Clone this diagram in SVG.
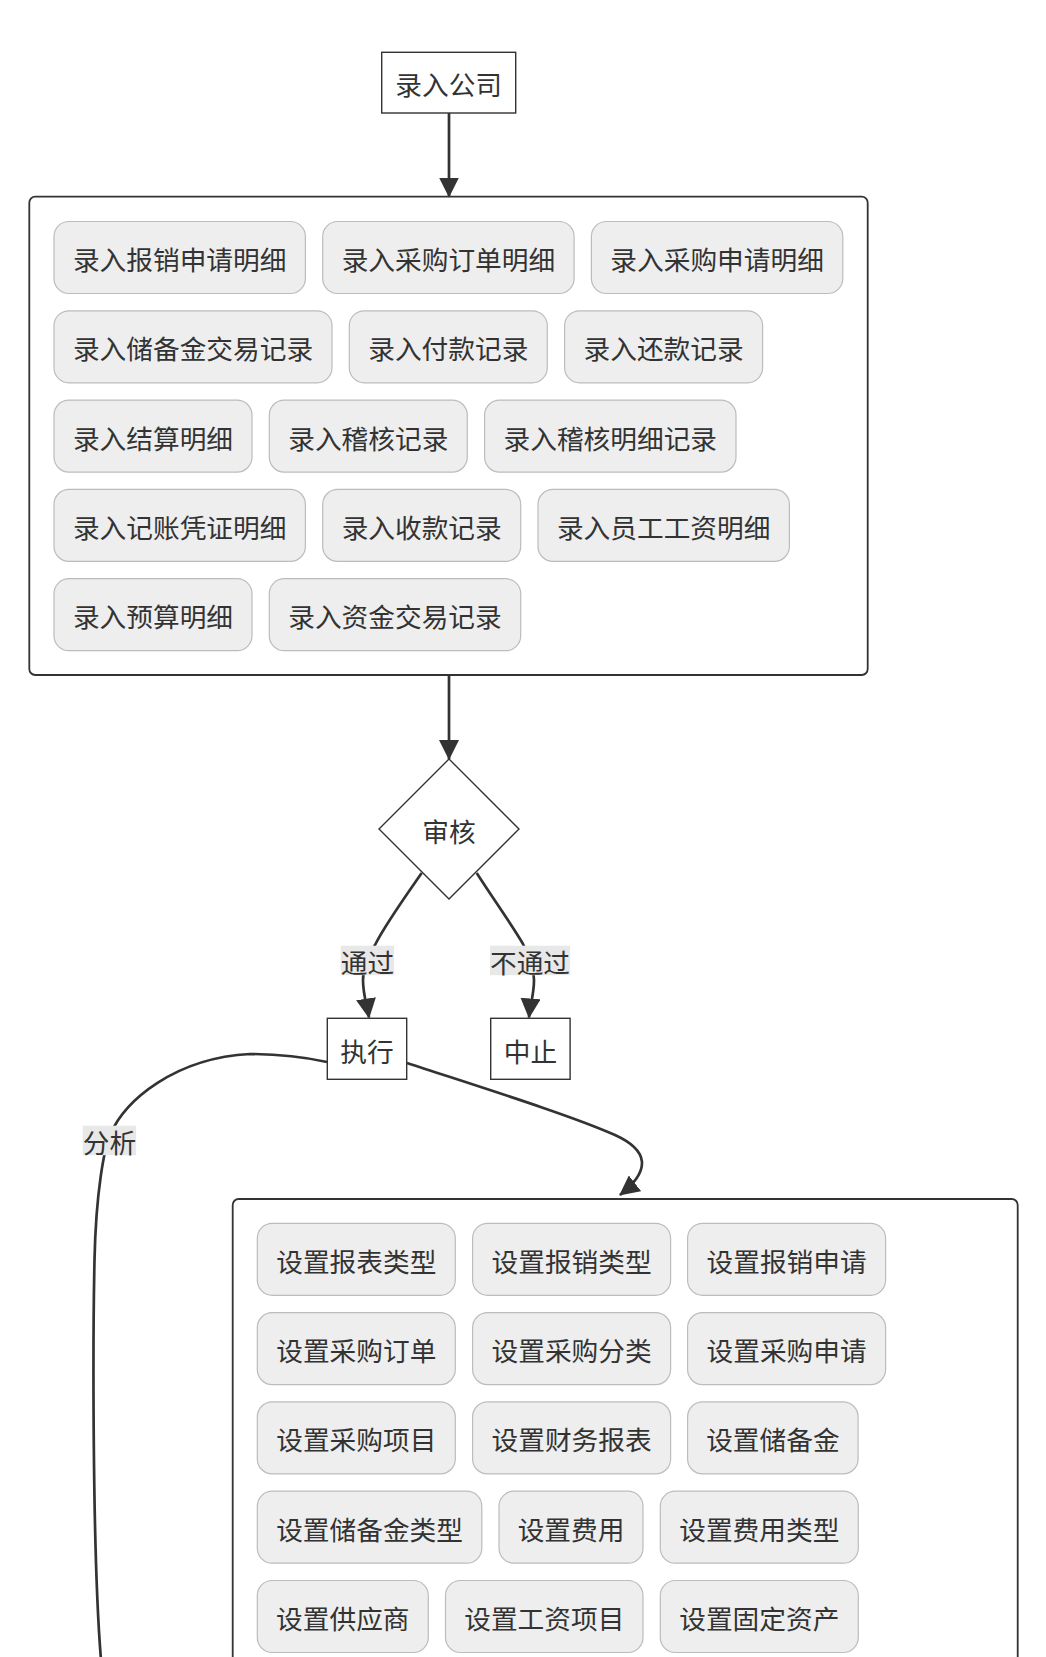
<svg xmlns="http://www.w3.org/2000/svg" width="1046" height="1657" viewBox="0 0 1046 1657">
<style>
  text { font-family: "Noto Sans CJK SC", "Noto Sans", "Liberation Sans", sans-serif; font-size: 26.7px; fill: #333333; text-anchor: middle; dominant-baseline: central; }
  .cluster { fill: #ffffff; stroke: #333333; stroke-width: 1.8; }
  .box { fill: #ffffff; stroke: #333333; stroke-width: 1.4; }
  .item { fill: #eeeeee; stroke: #bcbcbc; stroke-width: 1.2; }
  .edge { fill: none; stroke: #333333; stroke-width: 2.7; }
  .lbl { fill: #e8e8e8; }
</style>
<defs>
  <marker id="arrow" viewBox="0 0 10 10" refX="9.5" refY="5" markerUnits="userSpaceOnUse" markerWidth="20" markerHeight="20" orient="auto">
    <path d="M0,0 L10,5 L0,10 z" fill="#333333"/>
  </marker>
</defs>
<rect width="1046" height="1657" fill="#ffffff"/>

<g id="cluster-input">
  <rect class="cluster" x="29.3" y="196.7" width="838.4" height="478.3" rx="6"/>
</g>
<g id="cluster-setup">
  <rect class="cluster" x="232.7" y="1199" width="785" height="560" rx="6"/>
</g>

<g id="connectors">
  <path class="edge" d="M449,113 L449,196.5" marker-end="url(#arrow)"/>
  <path class="edge" d="M449,675 L449,759" marker-end="url(#arrow)"/>
  <path class="edge" d="M421.7,873 C405,897 385,925 375,945 C368,958 363,968 363,980 C363,995 367,1005 369,1017.5" marker-end="url(#arrow)"/>
  <path class="edge" d="M476.7,873 C492,897 512,925 523,944 C530,958 534,968 534,980 C534,995 530,1005 529,1017.5" marker-end="url(#arrow)"/>
  <path class="edge" d="M407,1063 C480,1087 570,1115 615,1135 C648,1150 652,1170 620,1195" marker-end="url(#arrow)"/>
  <path class="edge" d="M327,1062 C295,1055 270,1054 250,1054 C175,1058 125,1100 110,1135 C104.5,1148 96,1190 94.5,1260 C93,1330 92,1550 101,1660"/>
  <g id="label-pass">
    <rect class="lbl" x="340.7" y="945.7" width="53.4" height="29.5"/>
    <text x="367.4" y="961">通过</text>
  </g>
  <g id="label-fail">
    <rect class="lbl" x="490" y="945.7" width="80.1" height="29.5"/>
    <text x="530" y="961">不通过</text>
  </g>
  <g id="label-analyze">
    <rect class="lbl" x="82.7" y="1125.7" width="53.4" height="29.5"/>
    <text x="109.4" y="1141">分析</text>
  </g>
</g>

<g id="node-company">
  <rect class="box" x="381.7" y="52.3" width="134" height="60.7"/>
  <text x="448.7" y="83.5">录入公司</text>
</g>
<g id="node-audit">
  <polygon class="box" points="449,759 519,829 449,899 379,829"/>
  <text x="449" y="830">审核</text>
</g>
<g id="node-exec">
  <rect class="box" x="327.3" y="1018.3" width="79.4" height="61"/>
  <text x="367" y="1050">执行</text>
</g>
<g id="node-stop">
  <rect class="box" x="490.7" y="1018.3" width="79.4" height="61"/>
  <text x="530.4" y="1050">中止</text>
</g>

<!-- cluster 1 items -->
<g id="n-a1"><rect class="item" x="54" y="221.5" width="251.4" height="72" rx="15"/><text x="179.7" y="258.5">录入报销申请明细</text></g>
<g id="n-a2"><rect class="item" x="322.7" y="221.5" width="251.4" height="72" rx="15"/><text x="448.4" y="258.5">录入采购订单明细</text></g>
<g id="n-a3"><rect class="item" x="591.4" y="221.5" width="251.4" height="72" rx="15"/><text x="717.1" y="258.5">录入采购申请明细</text></g>

<g id="n-b1"><rect class="item" x="54" y="310.8" width="278" height="72" rx="15"/><text x="193" y="347.8">录入储备金交易记录</text></g>
<g id="n-b2"><rect class="item" x="349.3" y="310.8" width="198" height="72" rx="15"/><text x="448.3" y="347.8">录入付款记录</text></g>
<g id="n-b3"><rect class="item" x="564.6" y="310.8" width="198" height="72" rx="15"/><text x="663.6" y="347.8">录入还款记录</text></g>

<g id="n-c1"><rect class="item" x="54" y="400.1" width="198" height="72" rx="15"/><text x="153" y="437.1">录入结算明细</text></g>
<g id="n-c2"><rect class="item" x="269.3" y="400.1" width="198" height="72" rx="15"/><text x="368.3" y="437.1">录入稽核记录</text></g>
<g id="n-c3"><rect class="item" x="484.6" y="400.1" width="251.4" height="72" rx="15"/><text x="610.3" y="437.1">录入稽核明细记录</text></g>

<g id="n-d1"><rect class="item" x="54" y="489.4" width="251.4" height="72" rx="15"/><text x="179.7" y="526.4">录入记账凭证明细</text></g>
<g id="n-d2"><rect class="item" x="322.7" y="489.4" width="198" height="72" rx="15"/><text x="421.7" y="526.4">录入收款记录</text></g>
<g id="n-d3"><rect class="item" x="538" y="489.4" width="251.4" height="72" rx="15"/><text x="663.7" y="526.4">录入员工工资明细</text></g>

<g id="n-e1"><rect class="item" x="54" y="578.7" width="198" height="72" rx="15"/><text x="153" y="615.7">录入预算明细</text></g>
<g id="n-e2"><rect class="item" x="269.3" y="578.7" width="251.4" height="72" rx="15"/><text x="395" y="615.7">录入资金交易记录</text></g>

<!-- cluster 2 items -->
<g id="n-f1"><rect class="item" x="257.3" y="1223.3" width="198" height="72" rx="15"/><text x="356.3" y="1260.3">设置报表类型</text></g>
<g id="n-f2"><rect class="item" x="472.6" y="1223.3" width="198" height="72" rx="15"/><text x="571.6" y="1260.3">设置报销类型</text></g>
<g id="n-f3"><rect class="item" x="687.6" y="1223.3" width="198" height="72" rx="15"/><text x="786.6" y="1260.3">设置报销申请</text></g>

<g id="n-g1"><rect class="item" x="257.3" y="1312.6" width="198" height="72" rx="15"/><text x="356.3" y="1349.6">设置采购订单</text></g>
<g id="n-g2"><rect class="item" x="472.6" y="1312.6" width="198" height="72" rx="15"/><text x="571.6" y="1349.6">设置采购分类</text></g>
<g id="n-g3"><rect class="item" x="687.6" y="1312.6" width="198" height="72" rx="15"/><text x="786.6" y="1349.6">设置采购申请</text></g>

<g id="n-h1"><rect class="item" x="257.3" y="1401.9" width="198" height="72" rx="15"/><text x="356.3" y="1438.9">设置采购项目</text></g>
<g id="n-h2"><rect class="item" x="472.6" y="1401.9" width="198" height="72" rx="15"/><text x="571.6" y="1438.9">设置财务报表</text></g>
<g id="n-h3"><rect class="item" x="687.6" y="1401.9" width="170.5" height="72" rx="15"/><text x="772.9" y="1438.9">设置储备金</text></g>

<g id="n-i1"><rect class="item" x="257.3" y="1491.2" width="224.5" height="72" rx="15"/><text x="369.6" y="1528.2">设置储备金类型</text></g>
<g id="n-i2"><rect class="item" x="499" y="1491.2" width="144" height="72" rx="15"/><text x="571" y="1528.2">设置费用</text></g>
<g id="n-i3"><rect class="item" x="660.3" y="1491.2" width="198" height="72" rx="15"/><text x="759.3" y="1528.2">设置费用类型</text></g>

<g id="n-j1"><rect class="item" x="257.3" y="1580.5" width="171" height="72" rx="15"/><text x="342.8" y="1617.5">设置供应商</text></g>
<g id="n-j2"><rect class="item" x="445.5" y="1580.5" width="197.5" height="72" rx="15"/><text x="544.3" y="1617.5">设置工资项目</text></g>
<g id="n-j3"><rect class="item" x="660.3" y="1580.5" width="198" height="72" rx="15"/><text x="759.3" y="1617.5">设置固定资产</text></g>
</svg>
